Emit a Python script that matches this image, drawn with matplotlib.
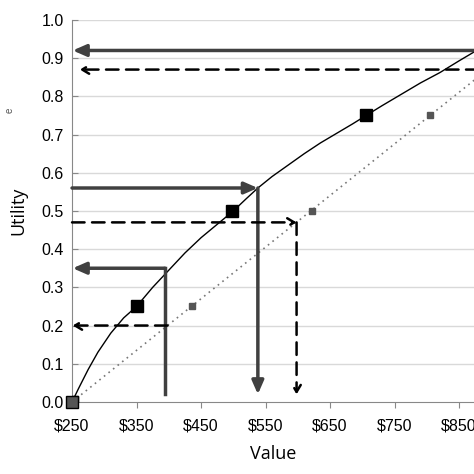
import matplotlib
matplotlib.use("Agg")
import matplotlib.pyplot as plt

plt.rcParams['font.family'] = ['Liberation Sans', 'DejaVu Sans']

curve_x = [250, 260, 275, 290, 310, 330, 350, 375, 400, 425, 450, 475, 500, 520, 538, 560, 585, 610, 635, 660, 685, 706, 730, 760, 790, 820, 850, 875]
curve_y = [0.0, 0.035, 0.085, 0.13, 0.18, 0.22, 0.25, 0.30, 0.345, 0.39, 0.43, 0.465, 0.5, 0.532, 0.56, 0.59, 0.62, 0.65, 0.678, 0.703, 0.728, 0.75, 0.775, 0.805, 0.835, 0.862, 0.893, 0.918]
sq_x = [250, 350, 498, 706]
sq_y = [0.0, 0.25, 0.5, 0.75]
lin_x = [250, 990]
lin_y = [0.0, 1.0]
gsq_x = [436, 622, 805]
gsq_y = [0.25, 0.5, 0.75]
xticks = [250, 350, 450, 550, 650, 750, 850]
xticklabels = ['$250', '$350', '$450', '$550', '$650', '$750', '$850']
yticks = [0.0, 0.1, 0.2, 0.3, 0.4, 0.5, 0.6, 0.7, 0.8, 0.9, 1.0]

fig = plt.figure(figsize=(4.74, 4.74), dpi=100)
ax = fig.add_axes([0.152, 0.152, 0.848, 0.806])
ax.set_xlim(250, 873)
ax.set_ylim(0, 1.0)
for y in yticks[1:]:
    ax.axhline(y, color='#d9d9d9', lw=1, zorder=0)

ax.plot(lin_x, lin_y, color='#777777', lw=1.2, ls=(0, (1, 2.5)), zorder=2)
ax.plot(gsq_x, gsq_y, 's', color='#555555', ms=5, zorder=3)
ax.plot(curve_x, curve_y, color='black', lw=1, zorder=2)
ax.plot(sq_x, sq_y, 's', color='black', ms=8, zorder=4)
ax.plot([250], [0], 's', color='#555555', mec='black', ms=8, zorder=5, clip_on=False)

sc = '#404040'
solid = dict(arrowstyle='-|>,head_length=0.8,head_width=0.35', color=sc, lw=2.5, shrinkA=0, shrinkB=0)
dash = dict(arrowstyle='->,head_length=0.5,head_width=0.3', color='black', lw=1.8, ls=(0, (5, 3)), shrinkA=0, shrinkB=0)

ax.annotate('', xy=(251, 0.92), xytext=(880, 0.92), arrowprops=solid, annotation_clip=False)
ax.annotate('', xy=(262, 0.87), xytext=(880, 0.87), arrowprops=dash, annotation_clip=False)
ax.plot([394, 394], [0.02, 0.35], color=sc, lw=2.5)
ax.annotate('', xy=(251, 0.35), xytext=(394, 0.35), arrowprops=solid)
ax.annotate('', xy=(538, 0.56), xytext=(250, 0.56), arrowprops=solid)
ax.annotate('', xy=(538, 0.02), xytext=(538, 0.56), arrowprops=solid)
ax.annotate('', xy=(598, 0.47), xytext=(250, 0.47), arrowprops=dash)
ax.annotate('', xy=(598, 0.02), xytext=(598, 0.47), arrowprops=dash)
ax.annotate('', xy=(251, 0.2), xytext=(398, 0.2), arrowprops=dash)

ax.set_xticks(xticks)
ax.set_xticklabels(xticklabels)
ax.set_yticks(yticks)
ax.set_yticklabels([f'{v:.1f}' for v in yticks])
ax.tick_params(labelsize=11.5, length=4, color='#888888', direction='in', pad=6)
ax.tick_params(axis='x', direction='out', pad=8)
for s in ['top', 'right']:
    ax.spines[s].set_visible(False)
for s in ['left', 'bottom']:
    ax.spines[s].set_color('#888888')
ax.set_xlabel('Value', fontsize=13, family=['Open Sans', 'DejaVu Sans'], labelpad=8)
ax.set_ylabel('Utility', fontsize=13, family=['Open Sans', 'DejaVu Sans'], labelpad=10)
fig.text(0.01, 0.765, 'e', fontsize=7, rotation=90, color='#555555')
fig.savefig('out.png', dpi=100)
